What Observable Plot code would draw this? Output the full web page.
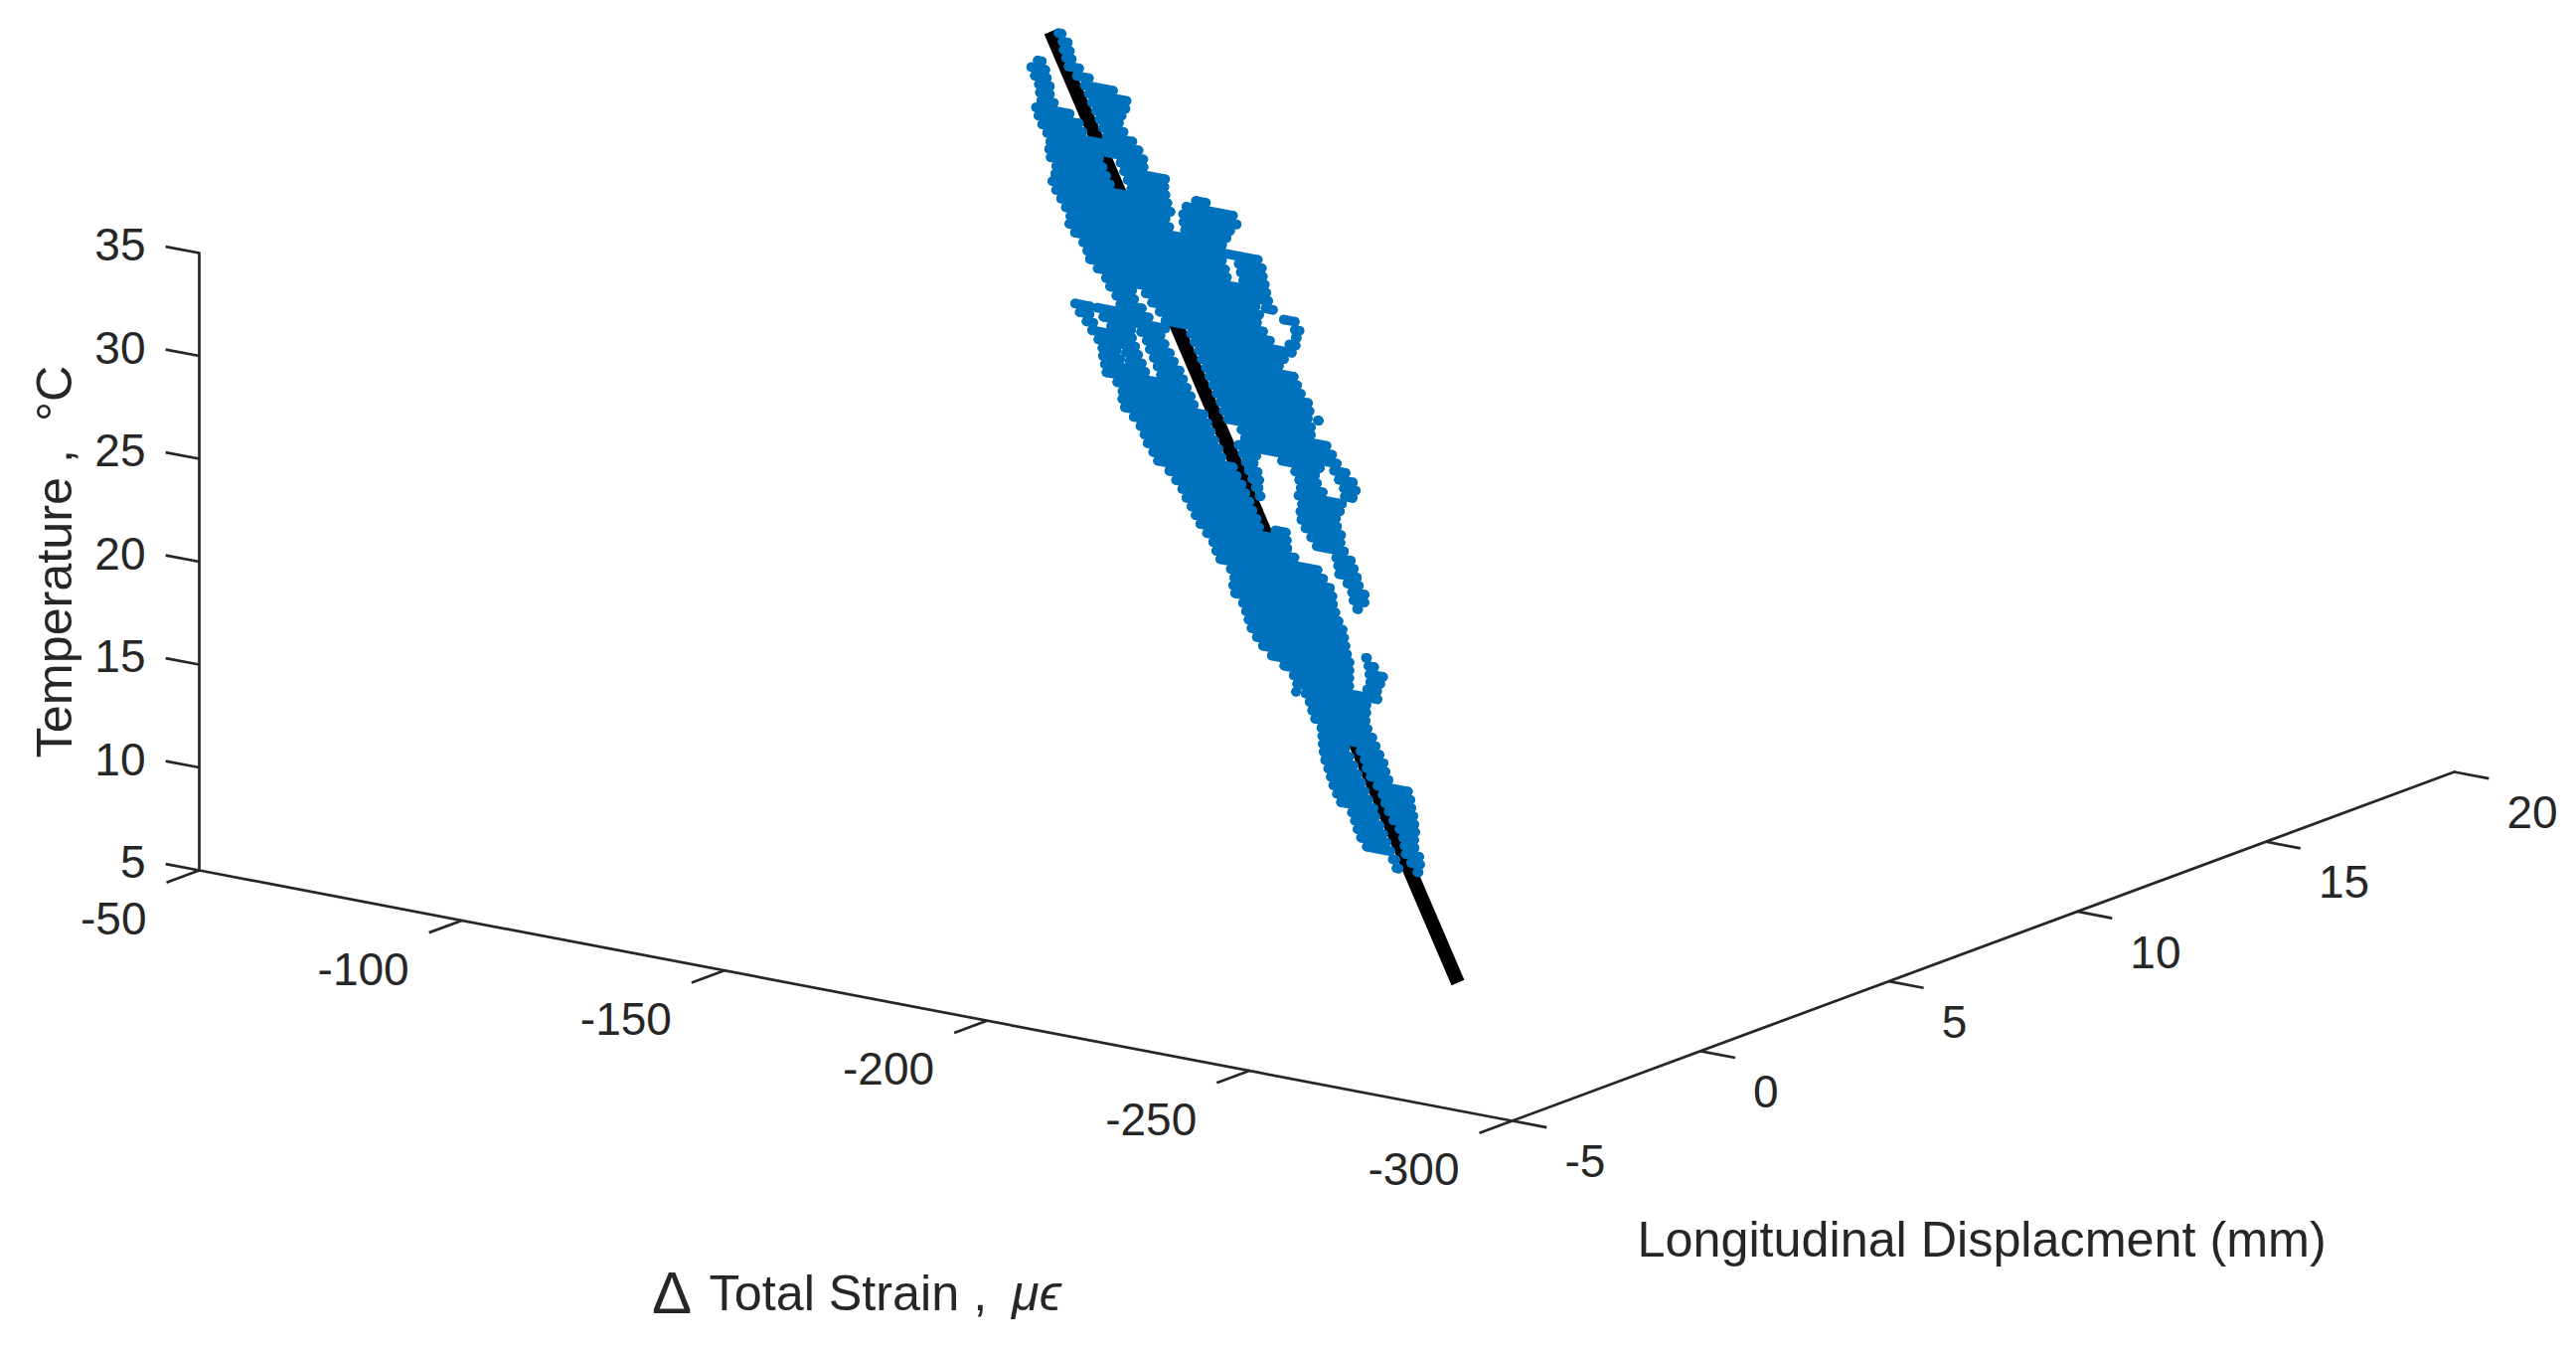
<!DOCTYPE html>
<html><head><meta charset="utf-8">
<style>html,body{margin:0;padding:0;background:#fff;overflow:hidden}svg{display:block}</style>
<script src="https://cdn.jsdelivr.net/npm/d3@7"></script>
<script src="https://cdn.jsdelivr.net/npm/@observablehq/plot@0.6"></script>
</head><body><div id="chart"></div>
<script>
// Axis ticks
const strainTicks = [-50,-100,-150,-200,-250,-300];
const dispTicks = [-5,0,5,10,15,20];
const tempTicks = [5,10,15,20,25,30,35];

// Fitted line: end points
const fitStrain = [-68.6,-253.8];
const fitDisp = [15,0];
const fitTemp = [33.1,6.07];

// Measured cloud, read row by row along the temperature
const rowTemp = [33.10,32.86,32.61,32.37,32.13,31.88,31.64,31.40,31.15,30.91,30.67,30.42,30.18,29.94,29.69,29.45,29.21,28.96,28.72,28.48,28.23,27.99,27.75,27.50,27.26,27.02,26.77,26.53,26.29,26.04,25.80,25.56,25.31,25.07,24.83,24.58,24.34,24.10,23.85,23.61,23.37,23.12,22.88,22.64,22.39,22.15,21.91,21.66,21.42,21.18,20.93,20.69,20.45,20.20,19.96,19.72,19.47,19.23,18.99,18.74,18.50,18.26,18.01,17.77,17.53,17.28,17.04,16.80,16.55,16.31,16.07,15.82,15.58,15.34,15.09,14.85,14.61,14.36,14.12,13.88,13.63,13.39,13.15,12.90,12.66,12.42,12.17,11.93,11.69,11.44,11.20,10.96,10.71,10.47,10.23,9.98,9.74,9.50,9.25];
const rowDisp = [15,14.87,14.73,14.6,14.46,14.33,14.19,14.06,13.92,13.79,13.65,13.52,13.38,13.25,13.11,12.98,12.84,12.71,12.57,12.44,12.3,12.17,12.03,11.9,11.76,11.63,11.49,11.36,11.22,11.09,10.95,10.82,10.68,10.55,10.41,10.28,10.14,10.01,9.87,9.74,9.6,9.47,9.33,9.2,9.06,8.93,8.79,8.66,8.52,8.39,8.25,8.12,7.98,7.85,7.71,7.58,7.44,7.31,7.17,7.04,6.9,6.77,6.63,6.5,6.36,6.23,6.09,5.96,5.82,5.69,5.55,5.42,5.28,5.15,5.01,4.88,4.74,4.61,4.47,4.34,4.2,4.07,3.93,3.8,3.66,3.53,3.39,3.26,3.12,2.99,2.85,2.72,2.58,2.45,2.31,2.18,2.04,1.91,1.77];
const rowFitStrain = [-68.6,-70.3,-71.9,-73.6,-75.3,-76.9,-78.6,-80.3,-81.9,-83.6,-85.3,-86.9,-88.6,-90.3,-91.9,-93.6,-95.3,-96.9,-98.6,-100.3,-101.9,-103.6,-105.3,-106.9,-108.6,-110.3,-111.9,-113.6,-115.3,-116.9,-118.6,-120.3,-121.9,-123.6,-125.3,-126.9,-128.6,-130.3,-131.9,-133.6,-135.3,-136.9,-138.6,-140.3,-141.9,-143.6,-145.3,-146.9,-148.6,-150.3,-151.9,-153.6,-155.3,-156.9,-158.6,-160.3,-161.9,-163.6,-165.3,-166.9,-168.6,-170.3,-171.9,-173.6,-175.3,-176.9,-178.6,-180.3,-181.9,-183.6,-185.3,-186.9,-188.6,-190.3,-191.9,-193.6,-195.3,-196.9,-198.6,-200.3,-201.9,-203.6,-205.3,-206.9,-208.6,-210.3,-211.9,-213.6,-215.3,-216.9,-218.6,-220.3,-221.9,-223.6,-225.3,-226.9,-228.6,-230.3,-231.9];
// Strain departure from the fit at each row: first,last of each contiguous run of samples
const rowRuns = [
[-1.5,-2.1],[-1.5,-2.5],[-1.1,-2.3],[-.8,-1.9],
[5.3,4.5,-.6,-2.6],[7.2,4.5,-1.5,-3.8],[7.2,4.9,-2.3,-7.7],[7.2,5.1,-2.3,-9.5],[7.6,5.7,-2.3,-8.7],[8.1,5.7,-2.3,-7.2],
[9.8,3.4,-2.3,-6],[10,2.3,-2.3,-6.2],[10,2.3,-2.3,-7.2],[9.8,-7.6],[9.8,-7.9],
[10.8,1.3,-2.8,-7.2],[11.2,1.3,-2.8,-10.6],[10.8,1.3,-2.8,-9.8],[11.7,1.3,-2.8,-9.3,-15.1,-17],
[13,-8.9,-12.5,-21.4],[12.9,-8.9,-11.3,-21.5],[12.7,-7.2,-10.6,-19.5],[12.5,-7.2,-10.2,-18.1],
[12.3,-16.6],[13.2,-22.7],[12.9,-15.1,-18.3,-22.7],[11.9,-15.1,-18.1,-22.3],[11.9,-14.7,-17.8,-21.9],[12.1,-21.5],[11.3,-21.2],
[10.4,-18.1,-20,-21.4],[10.4,6.2,3.6,-18,-22.7,-24.8],[9.8,6.4,3,-17,-24.2,-25.1],[9.8,5.7,2.3,-17.4,-23.6,-23.8],
[19.1,16.3,14.9,5.1,1.9,-18,-21.7,-22.9],[18.9,17,14.4,2.6,-2.3,-21.5],[18.3,17,13.6,9.8,7.9,4.2,-2.3,-19.3],[18,10.4,7.6,4.2,-2.3,-17.6],
[17.4,14.4,12.9,10.4,7.6,3.8,-2.3,-19.8],[17.4,14.7,12.9,10.6,7.6,3.8,-2.3,-19.7],[18,14.7,12.9,10.6,7.6,3.4,-2.3,-19.7],[18.3,10.6,7.6,3.4,-2.3,-20.4],
[18.7,3.4,-2.3,-20],[17.4,3.4,-2.3,-18.9,-20.8,-21],[17,3.4,-2.3,-18.9],[17.8,2.3,-2.3,-18.1],
[18,2.3,-4.2,-20.4],[17,2.3,-4.2,-20.8],[16.4,2.3,-2.3,-21],
[16.4,2.3,-2.3,-4.9,-9.8,-17,-19.7,-21.9],[16.4,2.3,-2.3,-3.8,-11.7,-15.5,-20,-22.7],[16.1,.9,-2.1,-3.8,-11.7,-15.1,-20.2,-22.5],[15.9,.9,-2.1,-3.4,-11.3,-15.5,-19.7,-21.2],
[14.4,.6,-2.1,-2.6,-10.2,-18.5],[13.8,.6,-2.1,-2.3,-10.2,-17.4],[13.4,.6,-9.1,-15.9],[13.2,.6,-8.7,-15.5],[13,.6,-8.7,-15.5],[12.9,.8,-2.3,-4.3,-9.1,-14.7],
[12.7,-3.8,-9.5,-14.7],[12.1,-3.2,-12.5,-15.3],[11.7,-3.8,-12.1,-15.1],[11.7,-7.6,-11.7,-15.1],[11.7,-7.9,-12.5,-14.7],[10.4,-8.5,-12.7,-15.1],[10.4,-8.3,-12.3,-14.4],[11.3,-7.7,-12.3,-12.5],
[11.7,-7.4],[10.8,-7.4],[11,-7.4],[11.2,-7],[11.3,-6.6],
[11,-6.2,-9.8,-10],[10.6,-5.9,-9.5,-10.6],[9.5,-5.3,-9.1,-11.7],[7.9,-4.5,-8.5,-10.4],[6.8,-3.8,-7.2,-9.1],[6.8,-8.5],[7.7,7.7,5.9,-5.7],
[5.9,-4.9],[6,-4.2],[6.2,-3.8],[5.7,-4],[6.2,-4],
[6.8,2.5,-.4,-4],[7.4,2.5,-.4,-4],[7.7,2.3,-.2,-3.8],[7.9,2.3,-.2,-3.6],
[8.1,2.3,-.8,-6.6],[8.3,2.3,-1.1,-6.4],[8.3,2.3,-.9,-5.9],[8.3,2.1,-.8,-5.5],[6.8,2.3,-1.1,-5.1],[7,2.3,-1.5,-4.5],[7.2,2.3,-1.5,-3.6],[7.2,2.3,-1.1,-3],[6.8,2.3,-.6,-3.2],
[2.6,2.1,-.9,-2.6],[2.5,2.1,-1.5,-1.7]
];

// Axis limits
const strainLim = [-50,-300];
const dispLim = [-5,20];
const tempLim = [5,35];

// Orthographic view of the 3-D box on the page
const px = (s,d) => 200 + (strainLim[0]-s)*5.284 + (d-dispLim[0])*37.92;
const py = (s,d,t) => 875 + (strainLim[0]-s)*1.008 - (d-dispLim[0])*14.04 - (t-tempLim[0])*20.7;
const X = p => px(p.s,p.d);
const Y = p => py(p.s,p.d,p.t);

const runs = rowRuns.flatMap((r,i) => {
  const out = [];
  for (let j=0;j<r.length;j+=2) out.push({s1:rowFitStrain[i]+r[j], s2:rowFitStrain[i]+r[j+1], d:rowDisp[i], t:rowTemp[i]});
  return out;
});
const samples = runs.flatMap(r => [{s:r.s1,d:r.d,t:r.t},{s:r.s2,d:r.d,t:r.t}]);

const fitLine = fitStrain.map((s,i)=>({s,d:fitDisp[i],t:fitTemp[i]}));
const strainAxis = strainLim.map(s=>({s,d:dispLim[0],t:tempLim[0]}));
const dispAxis = dispLim.map(d=>({s:strainLim[1],d,t:tempLim[0]}));
const tempAxis = tempLim.map(t=>({s:strainLim[0],d:dispLim[0],t}));
const strainPts = strainTicks.map(s=>({s,d:dispLim[0],t:tempLim[0],s2:s,d2:dispLim[0]-0.87,label:String(s)}));
const dispPts = dispTicks.map(d=>({s:strainLim[1],d,t:tempLim[0],s2:strainLim[1]-6.6,d2:d,label:String(d)}));
const tempPts = tempTicks.map(t=>({s:strainLim[0],d:dispLim[0],t,s2:strainLim[0]+6.4,d2:dispLim[0],label:String(t)}));

const INK = "#262626", BLUE = "#0072BD", FONT = "Liberation Sans";
const tickMark = pts => Plot.link(pts,{x1:X,y1:Y,x2:p=>px(p.s2,p.d2),y2:p=>py(p.s2,p.d2,p.t),stroke:INK,strokeWidth:2.7});
const axisLine = pts => Plot.line(pts,{x:X,y:Y,stroke:INK,strokeWidth:2.7});
const tickText = {text:"label",x:X,y:Y,fill:INK,fontSize:46,fontFamily:FONT};
const at200 = [{s:-200,d:-5,t:5}], at300 = [{s:-300,d:-5,t:5}], at20 = [{s:-50,d:-5,t:20}];
const lab = (pts,text,o) => Plot.text(pts,{x:X,y:Y,text:()=>text,fill:INK,fontSize:50.3,fontFamily:FONT,...o});

const chart = Plot.plot({
  width:2592,height:1360,margin:0,
  x:{domain:[0,2592],range:[0,2592],axis:null},
  y:{domain:[0,1360],range:[0,1360],axis:null},
  style:{background:"#fff",fontFamily:FONT},
  marks:[
    axisLine(strainAxis),axisLine(dispAxis),axisLine(tempAxis),
    tickMark(strainPts),tickMark(dispPts),tickMark(tempPts),
    Plot.text(strainPts,{...tickText,textAnchor:"end",dx:-53,dy:50}),
    Plot.text(dispPts,{...tickText,textAnchor:"start",dx:53,dy:42}),
    Plot.text(tempPts,{...tickText,textAnchor:"end",dx:-54,dy:-7}),
    lab(at200,"\u0394",{textAnchor:"start",dx:-337,dy:275,fontSize:60}),
    lab(at200,"Total Strain ,",{textAnchor:"start",dx:-279.5,dy:275}),
    lab(at200,"\u03BC\u03F5",{textAnchor:"start",dx:25,dy:275,fontStyle:"italic"}),
    lab(at300,"Longitudinal Displacment (mm)",{textAnchor:"start",dx:126,dy:120}),
    lab(at20,"Temperature ,\u00A0\u00A0\u00B0C",{rotate:-90,dx:-145}),
    Plot.line(fitLine,{x:X,y:Y,stroke:"#000",strokeWidth:14,strokeLinecap:"butt"}),
    Plot.link(runs,{x1:r=>px(r.s1,r.d),y1:r=>py(r.s1,r.d,r.t),x2:r=>px(r.s2,r.d),y2:r=>py(r.s2,r.d,r.t),stroke:BLUE,strokeWidth:9.6,strokeLinecap:"round"}),
    Plot.dot(samples,{x:X,y:Y,r:4.8,fill:BLUE,stroke:"none"})
  ]
});
document.getElementById("chart").append(chart);
</script></body></html>
